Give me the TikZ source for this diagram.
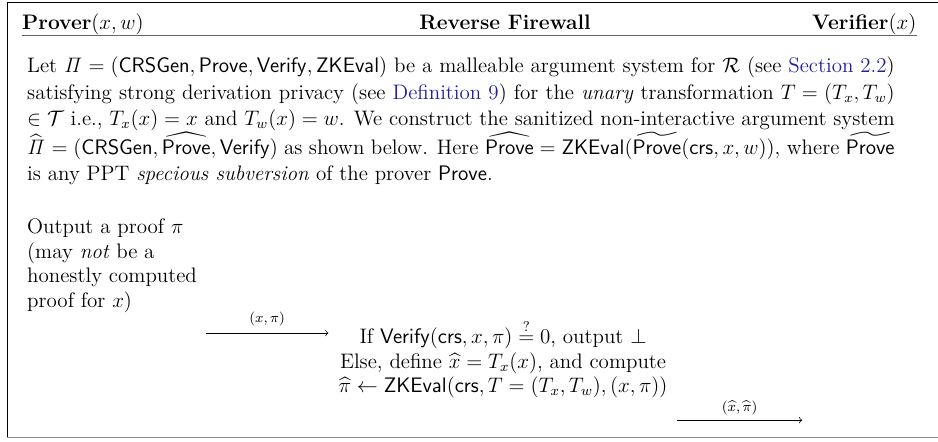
\documentclass[tikz,border=0pt]{standalone}
\usepackage{amsmath,amssymb}
\usepackage{tikz}
\usetikzlibrary{positioning}

\definecolor{linkblue}{rgb}{0.12,0.12,0.62}
\newcommand{\algo}[1]{\mathsf{#1}}
\newcommand{\bodysize}{\fontsize{12}{14}\selectfont}

\begin{document}
\begin{tikzpicture}[font=\bodysize]
		\useasboundingbox (0,0) rectangle (18.85,8.865);
		\tikzset{msg/.style={font=\fontsize{8.5}{10}\selectfont, inner sep=1pt},
			party/.style={inner sep=0pt, font=\bodysize\bfseries}}
		
		% frame
		\draw[line width=0.5pt] (0.14,0.08) -- (0.14,8.825) -- (18.85,8.825);
		\draw[black!45,line width=0.5pt] (0.14,0.08) -- (18.85,0.08);
		
		% parties
		\node[party, anchor=base west] (prover) at (0.44,8.28) {Prover$(x,w)$};
		\node[party, anchor=base] (rf) at (10.15,8.28) {Reverse Firewall};
		\node[party, anchor=base east] (verifier) at (18.42,8.28) {Verifier$(x)$};
		\draw[black!60,line width=0.5pt] (0.44,8.15) -- (18.42,8.15);
		
		\node[anchor=base west, inner sep=0pt, text width=496pt, align=justify, font=\fontsize{12}{15}\selectfont] (intro) at (0.54,7.40) {Let $\mathit{\Pi} = (\algo{CRSGen}, \algo{Prove}, \algo{Verify}, \algo{ZKEval})$ be a malleable argument system for $\mathcal{R}$ (see \textcolor{linkblue}{Section 2.2})\linebreak
		satisfying strong derivation privacy (see \textcolor{linkblue}{Definition 9}) for the \emph{unary} transformation $T = (T_x, T_w)$\linebreak
		$\in \mathcal{T}$ i.e., $T_x(x) = x$ and $T_w(x) = w$. We construct the sanitized non-interactive argument system\linebreak
		$\widehat{\mathit{\Pi}} = (\algo{CRSGen}, \widehat{\algo{Prove}}, \algo{Verify})$ as shown below. Here $\widehat{\algo{Prove}} = \algo{ZKEval}(\widetilde{\algo{Prove}}(\algo{crs}, x, w))$, where $\widetilde{\algo{Prove}}$\linebreak
		is any PPT \emph{specious subversion} of the prover $\algo{Prove}$.};
		
		\node[anchor=north west, inner sep=0pt, align=left] (cheat) at (0.54,4.47) {Output a proof $\pi$\\ (may \emph{not} be a\\ honestly computed\\ proof for $x$)};
		
		% prover to firewall
		\coordinate (m1s) at (4.14,2.17);
		\coordinate (m1e) at (6.60,2.17);
		\draw[->] (m1s) -- node[msg, above=3pt] (m1) {$(x,\pi)$} (m1e);
		
		\node[anchor=north, inner sep=0pt, align=center] (sanitize) at (10.11,2.44) {If $\algo{Verify}(\algo{crs}, x, \pi) \stackrel{?}{=} 0$, output $\bot$\\
		Else, define $\widehat{x} = T_x(x)$, and compute\\
		$\widehat{\pi} \leftarrow \algo{ZKEval}(\algo{crs}, T = (T_x, T_w), (x, \pi))$};
		
		% firewall to verifier
		\coordinate (m2s) at (13.61,0.42);
		\coordinate (m2e) at (16.12,0.42);
		\draw[->] (m2s) -- node[msg, above=2pt] (m2) {$(\widehat{x},\widehat{\pi})$} (m2e);
\end{tikzpicture}
\end{document}
